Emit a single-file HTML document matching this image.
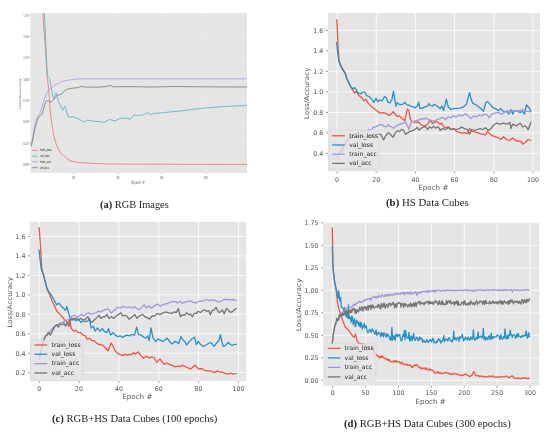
<!DOCTYPE html>
<html><head><meta charset="utf-8"><style>
html,body{margin:0;padding:0;background:#fff;width:550px;height:438px;overflow:hidden}
svg{display:block}
text{font-family:"DejaVu Sans","Liberation Sans",sans-serif}
.cap{font-family:"Liberation Serif","DejaVu Serif",serif;fill:#222}
</style></head><body>
<svg width="550" height="438" viewBox="0 0 550 438">
<defs><filter id="blurA" x="-5%" y="-5%" width="110%" height="110%"><feGaussianBlur stdDeviation="0.45"/></filter><filter id="blurB" x="-5%" y="-5%" width="110%" height="110%"><feGaussianBlur stdDeviation="0.3"/></filter></defs>
<g filter="url(#blurA)"><rect x="30.5" y="13" width="216.5" height="160" fill="#E5E5E5"/><line x1="117.7" y1="13" x2="117.7" y2="173" stroke="#fff" stroke-width="0.5" stroke-opacity="0.4"/><line x1="161.8" y1="13" x2="161.8" y2="173" stroke="#fff" stroke-width="0.5" stroke-opacity="0.4"/><line x1="205.9" y1="13" x2="205.9" y2="173" stroke="#fff" stroke-width="0.5" stroke-opacity="0.4"/><line x1="30.5" y1="164.3" x2="247" y2="164.3" stroke="#fff" stroke-width="0.5" stroke-opacity="0.4"/><line x1="30.5" y1="143" x2="247" y2="143" stroke="#fff" stroke-width="0.5" stroke-opacity="0.4"/><line x1="30.5" y1="121.6" x2="247" y2="121.6" stroke="#fff" stroke-width="0.5" stroke-opacity="0.4"/><line x1="30.5" y1="100.3" x2="247" y2="100.3" stroke="#fff" stroke-width="0.5" stroke-opacity="0.4"/><line x1="30.5" y1="79" x2="247" y2="79" stroke="#fff" stroke-width="0.5" stroke-opacity="0.4"/><line x1="30.5" y1="57.6" x2="247" y2="57.6" stroke="#fff" stroke-width="0.5" stroke-opacity="0.4"/><line x1="30.5" y1="36.3" x2="247" y2="36.3" stroke="#fff" stroke-width="0.5" stroke-opacity="0.4"/><line x1="30.5" y1="15" x2="247" y2="15" stroke="#fff" stroke-width="0.5" stroke-opacity="0.4"/><line x1="73.6" y1="173" x2="73.6" y2="174.2" stroke="#999" stroke-width="0.6"/><line x1="117.7" y1="173" x2="117.7" y2="174.2" stroke="#999" stroke-width="0.6"/><line x1="161.8" y1="173" x2="161.8" y2="174.2" stroke="#999" stroke-width="0.6"/><line x1="205.9" y1="173" x2="205.9" y2="174.2" stroke="#999" stroke-width="0.6"/><line x1="29.3" y1="164.3" x2="30.5" y2="164.3" stroke="#999" stroke-width="0.6"/><line x1="29.3" y1="143" x2="30.5" y2="143" stroke="#999" stroke-width="0.6"/><line x1="29.3" y1="121.6" x2="30.5" y2="121.6" stroke="#999" stroke-width="0.6"/><line x1="29.3" y1="100.3" x2="30.5" y2="100.3" stroke="#999" stroke-width="0.6"/><line x1="29.3" y1="79" x2="30.5" y2="79" stroke="#999" stroke-width="0.6"/><line x1="29.3" y1="57.6" x2="30.5" y2="57.6" stroke="#999" stroke-width="0.6"/><line x1="29.3" y1="36.3" x2="30.5" y2="36.3" stroke="#999" stroke-width="0.6"/><line x1="29.3" y1="15" x2="30.5" y2="15" stroke="#999" stroke-width="0.6"/><text transform="translate(73.6,178.5) scale(0.6,1)" font-size="4.2" text-anchor="middle" fill="#555">20</text><text transform="translate(117.7,178.5) scale(0.6,1)" font-size="4.2" text-anchor="middle" fill="#555">40</text><text transform="translate(161.8,178.5) scale(0.6,1)" font-size="4.2" text-anchor="middle" fill="#555">60</text><text transform="translate(205.9,178.5) scale(0.6,1)" font-size="4.2" text-anchor="middle" fill="#555">80</text><text transform="translate(28.8,165.83) scale(0.6,1)" font-size="4.2" text-anchor="end" fill="#555">0.00</text><text transform="translate(28.8,144.5) scale(0.6,1)" font-size="4.2" text-anchor="end" fill="#555">0.25</text><text transform="translate(28.8,123.17) scale(0.6,1)" font-size="4.2" text-anchor="end" fill="#555">0.50</text><text transform="translate(28.8,101.83) scale(0.6,1)" font-size="4.2" text-anchor="end" fill="#555">0.75</text><text transform="translate(28.8,80.5) scale(0.6,1)" font-size="4.2" text-anchor="end" fill="#555">1.00</text><text transform="translate(28.8,59.17) scale(0.6,1)" font-size="4.2" text-anchor="end" fill="#555">1.25</text><text transform="translate(28.8,37.84) scale(0.6,1)" font-size="4.2" text-anchor="end" fill="#555">1.50</text><text transform="translate(28.8,16.5) scale(0.6,1)" font-size="4.2" text-anchor="end" fill="#555">1.75</text><text transform="translate(138.3,183.5) scale(0.72,1)" font-size="4.4" text-anchor="middle" fill="#555">Epoch #</text><text transform="translate(21.0,93.9) scale(0.6,1) rotate(-90)" font-size="4.4" text-anchor="middle" fill="#555">Loss/Accuracy</text><clipPath id="ca"><rect x="30.5" y="13" width="216.5" height="160"/></clipPath><g clip-path="url(#ca)"><polyline points="42.4,5 42.9,13 47.3,77.3 48.7,89.6 49.3,97.4 50.3,111.1 51.6,122.1 52.5,128.5 54.8,140 56.5,145 58.2,148.7 60.4,153.1 63.6,155.7 68,159.6 72.4,161.4 78.9,162.5 89.8,163.3 107.3,164 140,164.2 247,164.4" fill="none" stroke="#EE7F6E" stroke-width="0.9" stroke-linejoin="round" stroke-linecap="round"/><polyline points="44.3,5 44.4,13 47.3,75.5 48.2,76.8 49.6,78.2 51,86.4 52.3,93.3 53.7,99.5 55.1,95.3 56.2,92.6 57.1,96.7 58.5,101.5 60.5,105.6 62.6,110.4 64.7,106.3 66,109.7 68.1,116.6 70.1,117.3 72.9,116.6 75.6,117.9 78.4,118.6 81.1,120.7 84.5,122.1 87.3,120 90.7,120.7 94.8,121.4 100,121.7 104.1,122.3 109.5,119.5 115,120.9 120.5,118.2 127.3,118.2 130,119.5 134.1,114.9 138.2,115.5 143.6,114.6 147.7,112.7 150.4,114.6 154.5,113.5 162.7,112.7 170.9,111.9 181.8,110.8 192.7,109.4 203.6,108.2 214.5,107.3 225.4,106.5 236.4,105.9 247,105.3" fill="none" stroke="#62B2D0" stroke-width="0.9" stroke-linejoin="round" stroke-linecap="round"/><polyline points="31,145.5 32.6,138 34.3,128.5 36,121.2 37.8,117 40,113.8 42.1,107 44.1,99.5 46.8,93.3 49.6,89.2 53.7,85.8 57.8,83.7 61.9,81.6 67.4,80.3 74.2,79.3 81.1,78.9 247,78.9" fill="none" stroke="#AAA2E2" stroke-width="0.9" stroke-linejoin="round" stroke-linecap="round"/><polyline points="31.4,146 33.1,138 34.8,129 36.6,122 38.3,118 40.6,115.4 42.3,114.3 43.4,109.7 44.8,104.2 46.2,100.8 48.2,100.8 51,102.2 53.7,99.5 56.4,96 59.2,94.7 61.9,94 64.7,90.5 67.4,89.2 70.1,88.5 75.6,87.8 79.7,87.1 81.1,86.2 83.8,87.1 100,87.1 106,86.5 110,85.6 114,86.8 130,86.6 150,87 175,86.5 200,86.8 247,87" fill="none" stroke="#858585" stroke-width="0.9" stroke-linejoin="round" stroke-linecap="round"/></g><line x1="32.3" y1="150.4" x2="37.7" y2="150.4" stroke="#EE7F6E" stroke-width="0.9"/><text transform="translate(40,151.48) scale(0.68,1)" font-size="3.6" fill="#222">train_loss</text><line x1="32.3" y1="156.2" x2="37.7" y2="156.2" stroke="#62B2D0" stroke-width="0.9"/><text transform="translate(40,157.23) scale(0.68,1)" font-size="3.6" fill="#222">val_loss</text><line x1="32.3" y1="161.9" x2="37.7" y2="161.9" stroke="#AAA2E2" stroke-width="0.9"/><text transform="translate(40,162.98) scale(0.68,1)" font-size="3.6" fill="#222">train_acc</text><line x1="32.3" y1="167.7" x2="37.7" y2="167.7" stroke="#858585" stroke-width="0.9"/><text transform="translate(40,168.73) scale(0.68,1)" font-size="3.6" fill="#222">val_acc</text></g>
<g filter="url(#blurB)"><rect x="328" y="13" width="212" height="158.4" fill="#E5E5E5"/><line x1="337" y1="13" x2="337" y2="171.4" stroke="#fff" stroke-width="0.8" stroke-opacity="1"/><line x1="376.2" y1="13" x2="376.2" y2="171.4" stroke="#fff" stroke-width="0.8" stroke-opacity="1"/><line x1="415.4" y1="13" x2="415.4" y2="171.4" stroke="#fff" stroke-width="0.8" stroke-opacity="1"/><line x1="454.6" y1="13" x2="454.6" y2="171.4" stroke="#fff" stroke-width="0.8" stroke-opacity="1"/><line x1="493.8" y1="13" x2="493.8" y2="171.4" stroke="#fff" stroke-width="0.8" stroke-opacity="1"/><line x1="533" y1="13" x2="533" y2="171.4" stroke="#fff" stroke-width="0.8" stroke-opacity="1"/><line x1="328" y1="153.4" x2="540" y2="153.4" stroke="#fff" stroke-width="0.8" stroke-opacity="1"/><line x1="328" y1="132.9" x2="540" y2="132.9" stroke="#fff" stroke-width="0.8" stroke-opacity="1"/><line x1="328" y1="112.4" x2="540" y2="112.4" stroke="#fff" stroke-width="0.8" stroke-opacity="1"/><line x1="328" y1="91.9" x2="540" y2="91.9" stroke="#fff" stroke-width="0.8" stroke-opacity="1"/><line x1="328" y1="71.4" x2="540" y2="71.4" stroke="#fff" stroke-width="0.8" stroke-opacity="1"/><line x1="328" y1="50.9" x2="540" y2="50.9" stroke="#fff" stroke-width="0.8" stroke-opacity="1"/><line x1="328" y1="30.4" x2="540" y2="30.4" stroke="#fff" stroke-width="0.8" stroke-opacity="1"/><line x1="337" y1="171.4" x2="337" y2="173.4" stroke="#555" stroke-width="0.6"/><line x1="376.2" y1="171.4" x2="376.2" y2="173.4" stroke="#555" stroke-width="0.6"/><line x1="415.4" y1="171.4" x2="415.4" y2="173.4" stroke="#555" stroke-width="0.6"/><line x1="454.6" y1="171.4" x2="454.6" y2="173.4" stroke="#555" stroke-width="0.6"/><line x1="493.8" y1="171.4" x2="493.8" y2="173.4" stroke="#555" stroke-width="0.6"/><line x1="533" y1="171.4" x2="533" y2="173.4" stroke="#555" stroke-width="0.6"/><line x1="326" y1="153.4" x2="328" y2="153.4" stroke="#555" stroke-width="0.6"/><line x1="326" y1="132.9" x2="328" y2="132.9" stroke="#555" stroke-width="0.6"/><line x1="326" y1="112.4" x2="328" y2="112.4" stroke="#555" stroke-width="0.6"/><line x1="326" y1="91.9" x2="328" y2="91.9" stroke="#555" stroke-width="0.6"/><line x1="326" y1="71.4" x2="328" y2="71.4" stroke="#555" stroke-width="0.6"/><line x1="326" y1="50.9" x2="328" y2="50.9" stroke="#555" stroke-width="0.6"/><line x1="326" y1="30.4" x2="328" y2="30.4" stroke="#555" stroke-width="0.6"/><text transform="translate(337,181.6) scale(0.97,1)" font-size="6.5" text-anchor="middle" fill="#555">0</text><text transform="translate(376.2,181.6) scale(0.97,1)" font-size="6.5" text-anchor="middle" fill="#555">20</text><text transform="translate(415.4,181.6) scale(0.97,1)" font-size="6.5" text-anchor="middle" fill="#555">40</text><text transform="translate(454.6,181.6) scale(0.97,1)" font-size="6.5" text-anchor="middle" fill="#555">60</text><text transform="translate(493.8,181.6) scale(0.97,1)" font-size="6.5" text-anchor="middle" fill="#555">80</text><text transform="translate(533,181.6) scale(0.97,1)" font-size="6.5" text-anchor="middle" fill="#555">100</text><text transform="translate(323.3,155.77) scale(0.97,1)" font-size="6.5" text-anchor="end" fill="#555">0.4</text><text transform="translate(323.3,135.27) scale(0.97,1)" font-size="6.5" text-anchor="end" fill="#555">0.6</text><text transform="translate(323.3,114.77) scale(0.97,1)" font-size="6.5" text-anchor="end" fill="#555">0.8</text><text transform="translate(323.3,94.27) scale(0.97,1)" font-size="6.5" text-anchor="end" fill="#555">1.0</text><text transform="translate(323.3,73.77) scale(0.97,1)" font-size="6.5" text-anchor="end" fill="#555">1.2</text><text transform="translate(323.3,53.27) scale(0.97,1)" font-size="6.5" text-anchor="end" fill="#555">1.4</text><text transform="translate(323.3,32.77) scale(0.97,1)" font-size="6.5" text-anchor="end" fill="#555">1.6</text><text transform="translate(433.3,189.5)" font-size="7.2" text-anchor="middle" fill="#555">Epoch #</text><text transform="translate(309.4,93.3) scale(0.9,1) rotate(-90)" font-size="7.3" text-anchor="middle" fill="#555">Loss/Accuracy</text><clipPath id="cb"><rect x="328" y="13" width="212" height="158.4"/></clipPath><g clip-path="url(#cb)"><polyline points="336.8,19.6 337.8,40 338.3,50.3 339.1,60.5 340.9,65.7 343.4,70 345.1,72.5 346.9,79.4 349.4,84.5 352,88.8 354.6,93.1 356.3,91.4 358.9,95.7 361.4,97.4 364,100.8 365.7,99.1 368.3,103.4 370.9,105.9 374.3,108.8 376.5,110.5 378.7,112.1 380.9,113.2 383.1,112.6 385.3,113.2 387.4,114.3 389.6,115.4 391.8,113.2 393.2,111.7 395.3,114.5 397.3,116.5 398.7,115.8 400.8,117.2 402.8,119.2 404.9,120.6 406.6,111.7 407.6,109 409,111 410.3,119.2 411.7,121.3 413.8,122 415.8,122.7 417.9,122 419.9,123.4 422,125.4 424,126.1 426.1,125.4 428.2,123.4 430.2,119.9 432.3,123.4 434.3,122.7 436.4,121.3 438.4,122.7 440,124.1 441.8,123.2 443.6,126.8 446.4,127.7 448.2,126.8 450.9,129.5 453.6,128.6 456.4,131.4 459.1,132.3 461.8,133.2 464.5,132.6 467.3,133.7 469.6,128.6 471.8,131.4 474.5,131.9 477.3,132.6 480,133.7 482.7,134.1 485.5,135 487.6,131.4 490,134.1 492.7,135.9 495.5,136.8 498.2,137.7 500.9,139.5 503.6,136.8 506.4,139.5 509.1,140.5 512.7,138.1 515.5,140.5 518.2,141 520.9,141.4 522.7,144.1 525.5,142.3 528.2,139.5 530.9,140.5" fill="none" stroke="#EC5640" stroke-width="1.3" stroke-linejoin="round" stroke-linecap="round"/><polyline points="336.6,42.6 337.8,53.7 338.8,61.4 340.9,66.5 343.4,70.8 345.1,73.4 346.9,78.5 349.4,83.7 351.1,87.1 352.9,88.8 354.6,87.6 356.3,89.7 358,93.1 360.6,93.9 363.1,92.2 364.9,92.2 366.6,95.7 369.1,96.5 371.7,99.1 373.8,102.5 376,98.2 377.7,101.6 379.4,99.9 382,100.8 384.6,96.5 386.4,98 387.7,102.1 389.8,102.8 391.8,100.1 393.5,91.2 394.6,98.7 396,106.2 397.3,102.8 400.1,104.9 402.8,104.2 404.9,102.5 406.9,104.9 409.7,105.5 412.4,106.9 415.1,107.6 417.2,106.2 418.6,102.1 419.9,108.3 422,108.3 424.7,106.9 427.5,106.2 428.8,103.5 430.2,105.5 432.3,106.2 434.3,104.2 436.4,105.5 438.4,106.9 440,108.6 441.8,105.9 443.6,110.5 446.4,99.2 448.2,106.8 450.9,109.5 453.6,108.6 456.4,108.3 460,108.1 463.6,106.8 466.4,104.1 468.2,97.7 469.6,92.6 470.9,98.6 472.7,103.2 476.4,105 480,107.7 483.6,111.4 485.5,103.2 487.3,101.4 490,104.1 492.7,107.7 495.5,108.6 498.2,110.5 500.9,108.6 503.6,111.9 506.4,111.4 509.1,114.1 510.9,109.5 512.7,114.1 514.5,110.5 517.3,111.4 520,112.3 522.7,111.4 524.5,114.1 526.4,105 529.1,107.7 530.9,111.4" fill="none" stroke="#2690C8" stroke-width="1.3" stroke-linejoin="round" stroke-linecap="round"/><polyline points="337,158 342,148 348,138.5 354,134 361.3,131.7 364,131.7 366.7,130.6 368.9,129.5 371.1,130.1 373.3,127.4 375.4,126.8 377.6,125.7 379.8,125.2 382,124.4 384.2,126.3 386.3,126.8 388,124.6 389.6,126.3 391.8,126.8 393.2,128.2 395.3,126.8 397.3,125.4 400.1,124 402.8,123.4 405.5,122 407.6,126.1 409,129.5 410.3,124.7 411.7,121.3 413.8,121.3 416.5,120.6 419.2,119.9 422,118.6 424,119.2 426.1,117.9 428.2,119.9 430.2,120.6 432.3,120.6 434.3,121.3 436.4,119.9 438.4,119.2 440,118.6 442.7,117.4 445.5,119.5 448.2,116.8 450.9,117.7 453.6,115.9 456.4,116.8 459.1,115 461.8,115.9 465.5,113.7 468.2,115.9 470.9,118.6 473.6,115.9 476.4,116.8 479.1,115 481.8,115.9 484.5,114.1 487.3,115 489.1,117.7 491.8,114.1 494.5,113.2 498.2,112.3 501.8,114.1 504.5,112.3 507.3,110.5 510,112.3 512.7,110.5 516.4,111.4 520,110.5 522.7,109.5 525.5,111.4 528.2,111.4 530.9,111.9" fill="none" stroke="#A096DC" stroke-width="1.3" stroke-linejoin="round" stroke-linecap="round"/><polyline points="337,158 342,150 348,140 354,137 360,136 366,137 372,135 377,134 380.9,134.4 382.5,137.7 383.6,139.9 385.3,136.6 386.9,133.9 388.5,132.8 390.2,133.9 391.8,136.1 393.2,137.1 395.3,132.9 397.3,130.9 399.4,131.6 401.4,129.5 403.5,130.2 405.5,134.3 407.6,132.9 409.7,131.6 411.7,130.9 413.8,130.2 415.8,128.8 417.2,127.5 419.2,130.2 421.3,128.2 423.4,127.5 425.4,126.1 427.5,129.5 429.5,126.8 431.6,128.2 433.6,126.1 435.7,128.2 437.7,126.8 439.8,128.8 440,130.5 442.7,128.6 445.5,129.5 448.2,127.7 450.9,129.5 453.6,128.6 456.4,129.5 459.1,128.6 461.8,127.2 464.5,128.6 467.3,129.5 469.6,134.1 471.8,129.5 474.5,130.5 477.3,129.5 480,128.6 482.7,129.5 485.5,127.7 488.2,130.5 490.9,128.6 493.6,125 496.4,123.2 500,124.1 503.6,123.2 507.3,124.1 510,122.3 510.9,128.6 512.7,124.1 516.4,125.9 520,123.2 522.7,126.8 525.5,125.9 528.2,129.5 530.9,122.3" fill="none" stroke="#747474" stroke-width="1.3" stroke-linejoin="round" stroke-linecap="round"/></g><rect x="329.4" y="129.8" width="49.6" height="39.6" rx="1" fill="#E5E5E5" fill-opacity="0.8" stroke="#CCC" stroke-opacity="0.8" stroke-width="0.5"/><line x1="332.2" y1="135.8" x2="344.7" y2="135.8" stroke="#EC5640" stroke-width="1.3"/><text transform="translate(349.2,137.63)" font-size="6.1" fill="#222">train_loss</text><line x1="332.2" y1="145" x2="344.7" y2="145" stroke="#2690C8" stroke-width="1.3"/><text transform="translate(349.2,146.83)" font-size="6.1" fill="#222">val_loss</text><line x1="332.2" y1="154.2" x2="344.7" y2="154.2" stroke="#A096DC" stroke-width="1.3"/><text transform="translate(349.2,156.03)" font-size="6.1" fill="#222">train_acc</text><line x1="332.2" y1="163.4" x2="344.7" y2="163.4" stroke="#747474" stroke-width="1.3"/><text transform="translate(349.2,165.23)" font-size="6.1" fill="#222">val_acc</text></g>
<g filter="url(#blurB)"><rect x="30" y="221.8" width="216.3" height="159.3" fill="#E5E5E5"/><line x1="39.3" y1="221.8" x2="39.3" y2="381.1" stroke="#fff" stroke-width="0.8" stroke-opacity="1"/><line x1="79.1" y1="221.8" x2="79.1" y2="381.1" stroke="#fff" stroke-width="0.8" stroke-opacity="1"/><line x1="118.9" y1="221.8" x2="118.9" y2="381.1" stroke="#fff" stroke-width="0.8" stroke-opacity="1"/><line x1="158.8" y1="221.8" x2="158.8" y2="381.1" stroke="#fff" stroke-width="0.8" stroke-opacity="1"/><line x1="198.6" y1="221.8" x2="198.6" y2="381.1" stroke="#fff" stroke-width="0.8" stroke-opacity="1"/><line x1="238.4" y1="221.8" x2="238.4" y2="381.1" stroke="#fff" stroke-width="0.8" stroke-opacity="1"/><line x1="30" y1="372.6" x2="246.3" y2="372.6" stroke="#fff" stroke-width="0.8" stroke-opacity="1"/><line x1="30" y1="353.2" x2="246.3" y2="353.2" stroke="#fff" stroke-width="0.8" stroke-opacity="1"/><line x1="30" y1="333.7" x2="246.3" y2="333.7" stroke="#fff" stroke-width="0.8" stroke-opacity="1"/><line x1="30" y1="314.2" x2="246.3" y2="314.2" stroke="#fff" stroke-width="0.8" stroke-opacity="1"/><line x1="30" y1="294.8" x2="246.3" y2="294.8" stroke="#fff" stroke-width="0.8" stroke-opacity="1"/><line x1="30" y1="275.3" x2="246.3" y2="275.3" stroke="#fff" stroke-width="0.8" stroke-opacity="1"/><line x1="30" y1="255.9" x2="246.3" y2="255.9" stroke="#fff" stroke-width="0.8" stroke-opacity="1"/><line x1="30" y1="236.4" x2="246.3" y2="236.4" stroke="#fff" stroke-width="0.8" stroke-opacity="1"/><line x1="39.3" y1="381.1" x2="39.3" y2="383.1" stroke="#555" stroke-width="0.6"/><line x1="79.1" y1="381.1" x2="79.1" y2="383.1" stroke="#555" stroke-width="0.6"/><line x1="118.9" y1="381.1" x2="118.9" y2="383.1" stroke="#555" stroke-width="0.6"/><line x1="158.8" y1="381.1" x2="158.8" y2="383.1" stroke="#555" stroke-width="0.6"/><line x1="198.6" y1="381.1" x2="198.6" y2="383.1" stroke="#555" stroke-width="0.6"/><line x1="238.4" y1="381.1" x2="238.4" y2="383.1" stroke="#555" stroke-width="0.6"/><line x1="28" y1="372.6" x2="30" y2="372.6" stroke="#555" stroke-width="0.6"/><line x1="28" y1="353.2" x2="30" y2="353.2" stroke="#555" stroke-width="0.6"/><line x1="28" y1="333.7" x2="30" y2="333.7" stroke="#555" stroke-width="0.6"/><line x1="28" y1="314.2" x2="30" y2="314.2" stroke="#555" stroke-width="0.6"/><line x1="28" y1="294.8" x2="30" y2="294.8" stroke="#555" stroke-width="0.6"/><line x1="28" y1="275.3" x2="30" y2="275.3" stroke="#555" stroke-width="0.6"/><line x1="28" y1="255.9" x2="30" y2="255.9" stroke="#555" stroke-width="0.6"/><line x1="28" y1="236.4" x2="30" y2="236.4" stroke="#555" stroke-width="0.6"/><text transform="translate(39.3,390.6) scale(0.97,1)" font-size="6.5" text-anchor="middle" fill="#555">0</text><text transform="translate(79.12,390.6) scale(0.97,1)" font-size="6.5" text-anchor="middle" fill="#555">20</text><text transform="translate(118.94,390.6) scale(0.97,1)" font-size="6.5" text-anchor="middle" fill="#555">40</text><text transform="translate(158.76,390.6) scale(0.97,1)" font-size="6.5" text-anchor="middle" fill="#555">60</text><text transform="translate(198.58,390.6) scale(0.97,1)" font-size="6.5" text-anchor="middle" fill="#555">80</text><text transform="translate(238.4,390.6) scale(0.97,1)" font-size="6.5" text-anchor="middle" fill="#555">100</text><text transform="translate(25.5,374.99) scale(0.97,1)" font-size="6.5" text-anchor="end" fill="#555">0.2</text><text transform="translate(25.5,355.53) scale(0.97,1)" font-size="6.5" text-anchor="end" fill="#555">0.4</text><text transform="translate(25.5,336.07) scale(0.97,1)" font-size="6.5" text-anchor="end" fill="#555">0.6</text><text transform="translate(25.5,316.61) scale(0.97,1)" font-size="6.5" text-anchor="end" fill="#555">0.8</text><text transform="translate(25.5,297.15) scale(0.97,1)" font-size="6.5" text-anchor="end" fill="#555">1.0</text><text transform="translate(25.5,277.69) scale(0.97,1)" font-size="6.5" text-anchor="end" fill="#555">1.2</text><text transform="translate(25.5,258.23) scale(0.97,1)" font-size="6.5" text-anchor="end" fill="#555">1.4</text><text transform="translate(25.5,238.77) scale(0.97,1)" font-size="6.5" text-anchor="end" fill="#555">1.6</text><text transform="translate(137.3,399)" font-size="7.2" text-anchor="middle" fill="#555">Epoch #</text><text transform="translate(11.6,302.2) scale(0.9,1) rotate(-90)" font-size="7.2" text-anchor="middle" fill="#555">Loss/Accuracy</text><clipPath id="cc"><rect x="30" y="221.8" width="216.3" height="159.3"/></clipPath><g clip-path="url(#cc)"><polyline points="39.1,227.6 40,238.7 40.9,252.4 41.7,267.8 43.4,274.7 44.8,280 47.2,289.6 49.6,294.4 52,300.8 54.4,305.6 56.8,311.2 59.2,313.6 61.6,316 64,319.2 66.4,321.6 68,323.2 69.6,320 71.2,328 73.6,331.1 76,330.3 78.4,332.7 80.8,332.7 83.2,335.1 85.5,335.9 87.1,339.1 89.5,338.3 91.9,340.7 94.3,340.7 96.7,343.1 99.1,344.7 100,344.5 102.7,345.2 105.5,348 108.2,350.7 110.9,343.2 113,345.9 115,350.7 117.7,353.4 120.5,354.8 123.2,355.5 125.2,354.1 127.3,355.5 129.3,354.1 131.4,354.8 133.4,352.7 135.5,354.1 138.2,352 140.9,355.5 143.6,358.2 146.4,356.1 149.1,358.2 151.8,356.8 153.9,357.5 156.6,362.3 160,358.9 162,361.6 164.1,364.3 166.8,363 169.5,364.3 172.3,365.7 175.5,366.9 178.3,366.2 180.4,366.7 182.4,365.1 185.2,366.5 188,367.8 190.7,368.9 192.8,367.1 194.9,365.3 196.9,367.1 199,369.2 201.8,368.5 204.5,370.3 207.3,370.9 210.1,370.9 212.8,372 215.6,372.3 217.7,370.9 219.7,372 222.5,372.3 225.3,373.4 228,374.2 230.8,373.1 232.9,374.1 234.9,373.6 236.3,373.6" fill="none" stroke="#EC5640" stroke-width="1.3" stroke-linejoin="round" stroke-linecap="round"/><polyline points="39.1,249.8 40,259.2 41.2,268.7 43.4,274.7 44.8,280 47.2,288.8 49.6,292.8 52,296 54.4,300.8 56.8,304.8 58.9,303.2 60.8,305.6 63.2,308 65.6,310.4 66.8,306.4 68.8,313.6 70.4,319.2 72,320 73.6,318.4 76,320.8 78.4,319.2 80.8,322.4 83.2,320.8 85.5,321.6 87.9,320.8 89.5,318.4 91.1,328 93.5,326.3 95.1,331.1 97.5,327.9 99.9,331.1 102.3,328.7 104.7,331.9 106.6,332.7 108.5,328.7 110.6,335.1 113,332.7 115.4,335.1 117.8,336.7 120.2,335.9 122.6,337.5 125,335.9 127.4,335.1 129.8,335.9 132.2,334.3 134.6,335.1 136.6,327.1 138.6,334.3 141,335.1 143.4,336.7 145.8,338.3 147.8,335.9 149.1,340.7 151,328 152.9,337.5 155.3,341.5 157.7,339.1 160.1,339.9 162.5,341.5 164.9,339.9 167.3,338.3 169.7,341.5 172.1,344.1 174.8,341.3 176.9,342.3 178.6,343.7 180.8,336.7 183.1,340.2 184.5,341.3 186.6,345 189.3,341.6 192.1,338.8 194.6,337.2 196.3,344.3 198.3,341.3 200.4,344.3 203.2,346.4 205.9,345 210.8,342.3 214.2,346.4 217,342.3 219.1,340.2 220.4,334.7 221.8,341.6 223.2,346.4 225.3,345.7 228,342.3 230.1,344.3 232.2,345.5 234.3,344.3 236.3,344.3" fill="none" stroke="#2690C8" stroke-width="1.3" stroke-linejoin="round" stroke-linecap="round"/><polyline points="39.5,359 42,348 44,339.9 45.6,335.9 48,332.7 50.4,331.1 52.8,327.9 55.2,325.5 57.6,324.7 60,323.2 62.4,322.4 64.8,321.2 67.2,320 69.6,319.2 72,316 74.4,315.2 76.8,317.6 79.2,316 81.6,314.4 84,316 86.3,313.6 88.7,312.8 91.1,314.4 93.5,313.6 95.9,312.8 98.3,311.2 100.7,312 103.1,310.4 105.5,309.6 107.4,308.8 109,309.6 111.1,313.2 113,311.2 115.4,309.6 117.8,307.2 120.2,308 122.6,306.4 125,307.2 127.4,307.5 129.8,306.8 132.2,308 134.6,306.8 137,308.8 139.4,309.6 141.8,307.2 144.2,304.8 146.6,308 149,305.6 151.3,308 153.7,306.4 156.1,304.8 157.7,304 160.1,306.4 162.5,304.8 164.9,304 167.3,303.7 169.7,302.4 172.1,301.6 175.5,301.6 177.6,303 180.4,301.3 182.4,303.2 184.5,302.3 187.3,301.6 190,300.9 193.5,302.3 196.3,303 199,301.3 203.2,300.9 206.6,299.5 209.4,300.5 212.8,299.9 215.6,300.5 218.4,301.9 221.1,301.3 223.9,299.5 226.7,299.5 229.4,299.9 232.2,299.5 234.3,299.9 236.3,300.5" fill="none" stroke="#A096DC" stroke-width="1.3" stroke-linejoin="round" stroke-linecap="round"/><polyline points="39.5,359 42,345 44,339.1 45.6,335.9 47.2,335.1 48.8,332.7 50.4,335.1 52,331.9 54.4,327.1 56.8,324.7 58.4,327.1 60,324 62.4,324.7 64,323.2 65.6,326.3 67.2,322.4 68.8,326.3 70.4,320 72,318.4 73.6,320 76,318.4 78.4,320 80.8,318.4 83.2,320 85.5,319.2 87.9,316.8 89.5,320 91.9,322.4 94.3,320 96.7,317.6 99.1,315.2 100.7,318.4 103.1,316.8 105,316.8 106.9,314.4 109,318.4 111.4,316.8 113.8,318.4 116.2,316 118.6,314.4 121,312.8 122.6,316 125,315.2 127.4,316.8 129,319.2 131.4,317.6 134.6,314.4 137,318.4 139.4,316 142.6,314.4 145,316.8 147.4,317.6 149.7,319.2 152.1,316 154.5,316 156.9,313.6 160.1,314.4 163.3,312.8 165.7,312 168.9,312.8 172.1,313.3 174.1,311.9 176.2,312.6 178.3,308.5 180.4,316.8 182.4,314.7 184.5,315.4 186.6,312.6 188.7,314.7 190.7,314 192.4,316.8 194.2,313.3 196.3,313.3 198.3,311.3 200.4,312.6 202.5,310.6 204.5,309.9 206.6,311.3 208.7,310.6 210.3,314.7 212.1,310.6 214.2,309.9 216,307.4 217.7,310.6 219.1,312.6 221.1,311.3 222.5,309.9 224.2,313.7 226.4,308.5 228,309.9 230.8,312.4 232.9,311.3 234.9,309.2 236.3,308.8" fill="none" stroke="#747474" stroke-width="1.3" stroke-linejoin="round" stroke-linecap="round"/></g><rect x="30.5" y="340.2" width="52.5" height="40" rx="1" fill="#E5E5E5" fill-opacity="0.8" stroke="#CCC" stroke-opacity="0.8" stroke-width="0.5"/><line x1="34.4" y1="345" x2="47.3" y2="345" stroke="#EC5640" stroke-width="1.3"/><text transform="translate(51.6,346.83)" font-size="6.1" fill="#222">train_loss</text><line x1="34.4" y1="354.3" x2="47.3" y2="354.3" stroke="#2690C8" stroke-width="1.3"/><text transform="translate(51.6,356.16)" font-size="6.1" fill="#222">val_loss</text><line x1="34.4" y1="363.7" x2="47.3" y2="363.7" stroke="#A096DC" stroke-width="1.3"/><text transform="translate(51.6,365.49)" font-size="6.1" fill="#222">train_acc</text><line x1="34.4" y1="373" x2="47.3" y2="373" stroke="#747474" stroke-width="1.3"/><text transform="translate(51.6,374.82)" font-size="6.1" fill="#222">val_acc</text></g>
<g filter="url(#blurB)"><rect x="323.2" y="222.4" width="216" height="163.2" fill="#E5E5E5"/><line x1="332.7" y1="222.4" x2="332.7" y2="385.6" stroke="#fff" stroke-width="0.8" stroke-opacity="1"/><line x1="365.6" y1="222.4" x2="365.6" y2="385.6" stroke="#fff" stroke-width="0.8" stroke-opacity="1"/><line x1="398.5" y1="222.4" x2="398.5" y2="385.6" stroke="#fff" stroke-width="0.8" stroke-opacity="1"/><line x1="431.4" y1="222.4" x2="431.4" y2="385.6" stroke="#fff" stroke-width="0.8" stroke-opacity="1"/><line x1="464.2" y1="222.4" x2="464.2" y2="385.6" stroke="#fff" stroke-width="0.8" stroke-opacity="1"/><line x1="497.1" y1="222.4" x2="497.1" y2="385.6" stroke="#fff" stroke-width="0.8" stroke-opacity="1"/><line x1="530" y1="222.4" x2="530" y2="385.6" stroke="#fff" stroke-width="0.8" stroke-opacity="1"/><line x1="323.2" y1="380.3" x2="539.2" y2="380.3" stroke="#fff" stroke-width="0.8" stroke-opacity="1"/><line x1="323.2" y1="357.8" x2="539.2" y2="357.8" stroke="#fff" stroke-width="0.8" stroke-opacity="1"/><line x1="323.2" y1="335.3" x2="539.2" y2="335.3" stroke="#fff" stroke-width="0.8" stroke-opacity="1"/><line x1="323.2" y1="312.8" x2="539.2" y2="312.8" stroke="#fff" stroke-width="0.8" stroke-opacity="1"/><line x1="323.2" y1="290.3" x2="539.2" y2="290.3" stroke="#fff" stroke-width="0.8" stroke-opacity="1"/><line x1="323.2" y1="267.8" x2="539.2" y2="267.8" stroke="#fff" stroke-width="0.8" stroke-opacity="1"/><line x1="323.2" y1="245.3" x2="539.2" y2="245.3" stroke="#fff" stroke-width="0.8" stroke-opacity="1"/><line x1="323.2" y1="222.8" x2="539.2" y2="222.8" stroke="#fff" stroke-width="0.8" stroke-opacity="1"/><line x1="332.7" y1="385.6" x2="332.7" y2="387.6" stroke="#555" stroke-width="0.6"/><line x1="365.6" y1="385.6" x2="365.6" y2="387.6" stroke="#555" stroke-width="0.6"/><line x1="398.5" y1="385.6" x2="398.5" y2="387.6" stroke="#555" stroke-width="0.6"/><line x1="431.4" y1="385.6" x2="431.4" y2="387.6" stroke="#555" stroke-width="0.6"/><line x1="464.2" y1="385.6" x2="464.2" y2="387.6" stroke="#555" stroke-width="0.6"/><line x1="497.1" y1="385.6" x2="497.1" y2="387.6" stroke="#555" stroke-width="0.6"/><line x1="530" y1="385.6" x2="530" y2="387.6" stroke="#555" stroke-width="0.6"/><line x1="321.2" y1="380.3" x2="323.2" y2="380.3" stroke="#555" stroke-width="0.6"/><line x1="321.2" y1="357.8" x2="323.2" y2="357.8" stroke="#555" stroke-width="0.6"/><line x1="321.2" y1="335.3" x2="323.2" y2="335.3" stroke="#555" stroke-width="0.6"/><line x1="321.2" y1="312.8" x2="323.2" y2="312.8" stroke="#555" stroke-width="0.6"/><line x1="321.2" y1="290.3" x2="323.2" y2="290.3" stroke="#555" stroke-width="0.6"/><line x1="321.2" y1="267.8" x2="323.2" y2="267.8" stroke="#555" stroke-width="0.6"/><line x1="321.2" y1="245.3" x2="323.2" y2="245.3" stroke="#555" stroke-width="0.6"/><line x1="321.2" y1="222.8" x2="323.2" y2="222.8" stroke="#555" stroke-width="0.6"/><text transform="translate(332.7,395.3) scale(0.97,1)" font-size="6.5" text-anchor="middle" fill="#555">0</text><text transform="translate(365.58,395.3) scale(0.97,1)" font-size="6.5" text-anchor="middle" fill="#555">50</text><text transform="translate(398.47,395.3) scale(0.97,1)" font-size="6.5" text-anchor="middle" fill="#555">100</text><text transform="translate(431.35,395.3) scale(0.97,1)" font-size="6.5" text-anchor="middle" fill="#555">150</text><text transform="translate(464.24,395.3) scale(0.97,1)" font-size="6.5" text-anchor="middle" fill="#555">200</text><text transform="translate(497.12,395.3) scale(0.97,1)" font-size="6.5" text-anchor="middle" fill="#555">250</text><text transform="translate(530.01,395.3) scale(0.97,1)" font-size="6.5" text-anchor="middle" fill="#555">300</text><text transform="translate(318.4,382.67) scale(0.97,1)" font-size="6.5" text-anchor="end" fill="#555">0.00</text><text transform="translate(318.4,360.17) scale(0.97,1)" font-size="6.5" text-anchor="end" fill="#555">0.25</text><text transform="translate(318.4,337.67) scale(0.97,1)" font-size="6.5" text-anchor="end" fill="#555">0.50</text><text transform="translate(318.4,315.17) scale(0.97,1)" font-size="6.5" text-anchor="end" fill="#555">0.75</text><text transform="translate(318.4,292.67) scale(0.97,1)" font-size="6.5" text-anchor="end" fill="#555">1.00</text><text transform="translate(318.4,270.17) scale(0.97,1)" font-size="6.5" text-anchor="end" fill="#555">1.25</text><text transform="translate(318.4,247.67) scale(0.97,1)" font-size="6.5" text-anchor="end" fill="#555">1.50</text><text transform="translate(318.4,225.17) scale(0.97,1)" font-size="6.5" text-anchor="end" fill="#555">1.75</text><text transform="translate(430.7,403.8)" font-size="7.2" text-anchor="middle" fill="#555">Epoch #</text><text transform="translate(301,304.8) scale(0.9,1) rotate(-90)" font-size="7.45" text-anchor="middle" fill="#555">Loss/Accuracy</text><clipPath id="cd"><rect x="323.2" y="222.4" width="216" height="163.2"/></clipPath><g clip-path="url(#cd)"><polyline points="332.3,227.6 332.6,242.1 332.8,262.7 333.5,272.9 334.8,283.2 336.2,290.1 337.7,303.8 339.1,309.7 340.6,314.2 342.1,318.6 343.6,323.1 345.1,326.8 347.3,329 349.5,331.2 351.8,335 354,337.2 355.5,334.2 357,340.9 359.1,343.6 362.3,343.7 363,344.9 363.6,344.9 364.3,344.8 364.9,344.4 365.6,346 366.2,346.4 366.9,346.2 367.6,346.6 368.2,346.5 368.9,346.4 369.5,347.6 370.2,348.4 370.8,347.8 371.5,349.7 372.2,348.9 372.8,349.4 373.5,349.9 374.1,352.8 374.8,353.4 375.5,354.7 376.1,355.3 376.8,354.8 377.4,355.8 378.1,356.6 378.7,356.3 379.4,358.1 380.1,356.8 380.7,356.2 381.4,357.4 382,355.8 382.7,357.3 383.3,356.9 384,357.8 384.7,358 385.3,358.9 386,358.6 386.6,358.5 387.3,360.3 387.9,359.2 388.6,360.4 389.3,359.5 389.9,361.3 390.6,361.5 391.2,361.6 391.9,361.9 392.6,361.9 393.2,362.1 393.9,360.8 394.5,361.3 395.2,361.9 395.8,360.4 396.5,361.8 397.2,362.1 397.8,361.4 398.5,361.7 399.1,362.2 399.8,362.4 400.4,363.8 401.1,362.8 401.8,362.3 402.4,362.7 403.1,364.1 403.7,364.8 404.4,364 405,364.2 405.7,364.4 406.4,365 407,364.1 407.7,365.1 408.3,365.2 409,365.5 409.7,364.8 410.3,365 411,365.8 411.6,367.4 412.3,366.7 412.9,367.3 413.6,366.2 414.3,365.3 414.9,364.8 415.6,365.8 416.2,365.2 416.9,364.6 417.5,365.8 418.2,366.3 418.9,367.2 419.5,367.8 420.2,367.2 420.8,368.5 421.5,368.6 422.1,368 422.8,368.8 423.5,368.1 424.1,368.1 424.8,368 425.4,369.4 426.1,368.1 426.8,368.1 427.4,369.7 428.1,369.8 428.7,369.4 429.4,370.3 430,368.9 430.7,369.5 431.4,369.9 432,370.6 432.7,370.5 433.3,370.8 434,371.6 434.6,372.9 435.3,373.3 436,373 436.6,372.5 437.3,371.5 437.9,372.5 438.6,372.3 439.2,373.4 439.9,372.4 440.6,373 441.2,373.6 441.9,373.5 442.5,373.5 443.2,373.1 443.9,372.9 444.5,372.9 445.2,373 445.8,372.3 446.5,372.5 447.1,372.6 447.8,373.3 448.5,372.9 449.1,373.8 449.8,374.3 450.4,373.5 451.1,374.2 451.7,374.4 452.4,374.5 453.1,374.1 453.7,373.5 454.4,373.5 455,373.9 455.7,374.2 456.3,373.8 457,374.1 457.7,374.5 458.3,374.5 459,375 459.6,374.8 460.3,375.7 461,375.5 461.6,375.1 462.3,375.6 462.9,375.2 463.6,375.2 464.2,374.7 464.9,374.4 465.6,374.2 466.2,374.2 466.9,375 467.5,375.3 468.2,375.2 468.8,376.3 469.5,376.5 470.2,376.2 470.8,376.1 471.5,375.2 472.1,375.1 472.8,373.2 473.4,372.5 474.1,371.8 474.8,373.8 475.4,374.8 476.1,375.8 476.7,375.5 477.4,375.4 478.1,375.8 478.7,375.8 479.4,376.5 480,375.9 480.7,376.2 481.3,376.3 482,376.8 482.7,376 483.3,376.6 484,376.6 484.6,376.9 485.3,377.2 485.9,376.6 486.6,376.9 487.3,376.7 487.9,376.6 488.6,376 489.2,376.7 489.9,376.8 490.5,376.1 491.2,376.1 491.9,376.9 492.5,376.1 493.2,376.2 493.8,376.4 494.5,377.2 495.2,377.3 495.8,377 496.5,377.2 497.1,376.6 497.8,377.2 498.4,377 499.1,377.1 499.8,377 500.4,377 501.1,376.8 501.7,376.5 502.4,376.8 503,376.5 503.7,376.8 504.4,376.8 505,376.6 505.7,376.2 506.3,376.1 507,376.5 507.6,376.8 508.3,377.2 509,377.7 509.6,377.1 510.3,377 510.9,376.4 511.6,376.1 512.3,375.8 512.9,376.5 513.6,377.2 514.2,378.1 514.9,378.3 515.5,378.5 516.2,378.4 516.9,378.4 517.5,378 518.2,378.6 518.8,378.1 519.5,378.4 520.1,378.6 520.8,378.7 521.5,378.7 522.1,377.7 522.8,378 523.4,378 524.1,378.1 524.7,377.8 525.4,378.2 526.1,377.7 526.7,378 527.4,378.7 528,378.6 528.7,378.4 529.4,378.1" fill="none" stroke="#EC5640" stroke-width="1.3" stroke-linejoin="round" stroke-linecap="round"/><polyline points="332.3,246.4 332.8,262.7 333.5,272.9 334.8,283.2 336.2,289 336.6,291 337.3,295.6 338,298.3 338.6,290.7 339.3,296.3 339.9,300.8 340.6,297.4 341.3,307 341.9,307.3 342.6,307.9 343.2,308.8 343.9,310.8 344.5,307.7 345.2,311.2 345.9,310.1 346.5,317 347.2,311.1 347.8,318.1 348.5,305 349.1,318.8 349.8,316.9 350.5,318.1 351.1,322.1 351.8,316.1 352.4,316.9 353.1,324.3 353.7,321.6 354.4,318.8 355.1,326.4 355.7,326.5 356.4,320.2 357,323.1 357.7,321.2 358.4,323 359,325.9 359.7,322.6 360.3,327.2 361,322.4 361.6,323.7 362.3,329.2 363,326.2 363.6,326.7 364.3,323.4 364.9,327.8 365.6,327.4 366.2,325.6 366.9,330.4 367.6,332.3 368.2,332.7 368.9,331 369.5,329.3 370.2,329.7 370.8,332.1 371.5,332.2 372.2,328.9 372.8,329.9 373.5,331 374.1,332.2 374.8,334.4 375.5,332.7 376.1,329.9 376.8,335.3 377.4,333 378.1,333.9 378.7,332.2 379.4,333.8 380.1,333.8 380.7,336.5 381.4,332.4 382,335.4 382.7,333.2 383.3,336.8 384,332.7 384.7,334.5 385.3,335.1 386,337.2 386.6,333.6 387.3,336.3 387.9,334.9 388.6,335.4 389.3,336.8 389.9,340 390.6,337.1 391.2,340.2 391.9,327.3 392.6,340.2 393.2,336.7 393.9,335.6 394.5,339.2 395.2,340.2 395.8,334.4 396.5,336.1 397.2,334.3 397.8,336.6 398.5,335.9 399.1,334.5 399.8,334.7 400.4,338.4 401.1,340.7 401.8,340.8 402.4,337.7 403.1,334.6 403.7,336.5 404.4,330.5 405,339.8 405.7,330.6 406.4,336 407,337.9 407.7,337.6 408.3,338.6 409,332.3 409.7,340.8 410.3,340.6 411,336 411.6,336.9 412.3,340.8 412.9,337.1 413.6,333.4 414.3,338.8 414.9,340.1 415.6,340.3 416.2,337.2 416.9,337.8 417.5,337.7 418.2,340.5 418.9,340.6 419.5,337.1 420.2,337.5 420.8,339.2 421.5,338.3 422.1,339.4 422.8,342.3 423.5,340.2 424.1,340.6 424.8,342.2 425.4,342.4 426.1,341.5 426.8,339.7 427.4,340.7 428.1,342.4 428.7,341.9 429.4,340.9 430,339.7 430.7,339.9 431.4,341.9 432,341 432.7,338.3 433.3,338.9 434,342.9 434.6,342.3 435.3,342.9 436,342.9 436.6,341 437.3,342.3 437.9,340.2 438.6,338.7 439.2,340 439.9,339.8 440.6,343.1 441.2,341.8 441.9,340.9 442.5,341.3 443.2,338.6 443.9,335.7 444.5,341.5 445.2,339.8 445.8,339 446.5,339.8 447.1,339.3 447.8,341.1 448.5,338.2 449.1,337.9 449.8,338.9 450.4,340.9 451.1,341.1 451.7,340.6 452.4,341.9 453.1,338.9 453.7,331.1 454.4,339.4 455,339.1 455.7,337.7 456.3,340.2 457,338.4 457.7,337.8 458.3,338.2 459,341.4 459.6,336.5 460.3,338.3 461,337.8 461.6,337.3 462.3,334.5 462.9,337.3 463.6,340.9 464.2,338.7 464.9,339.7 465.6,336.8 466.2,338.4 466.9,339 467.5,340.2 468.2,337.1 468.8,338.1 469.5,340.1 470.2,340 470.8,336.8 471.5,338.3 472.1,339.4 472.8,337.5 473.4,329.9 474.1,338.8 474.8,340.4 475.4,338.2 476.1,338.9 476.7,337.1 477.4,339.1 478.1,332 478.7,337.9 479.4,337.1 480,336.8 480.7,335.9 481.3,336.4 482,338 482.7,336.5 483.3,328.4 484,339.3 484.6,336.6 485.3,340 485.9,338.2 486.6,337.1 487.3,339.6 487.9,339.7 488.6,336.7 489.2,335.7 489.9,338.4 490.5,339.4 491.2,333.2 491.9,339.1 492.5,337.1 493.2,338.1 493.8,336.3 494.5,337 495.2,336.8 495.8,336.8 496.5,336.8 497.1,334.9 497.8,335.6 498.4,335.7 499.1,336 499.8,339.6 500.4,337.3 501.1,334.8 501.7,338.8 502.4,339 503,338.7 503.7,336.3 504.4,338.2 505,328.9 505.7,335 506.3,338.8 507,338.6 507.6,335.3 508.3,338.7 509,334.3 509.6,335.7 510.3,330.1 510.9,334.9 511.6,334.8 512.3,337.7 512.9,335.4 513.6,334.8 514.2,334.8 514.9,335.4 515.5,338.2 516.2,336.8 516.9,334.1 517.5,337.1 518.2,333.3 518.8,335.8 519.5,336.2 520.1,336.8 520.8,337.5 521.5,335.9 522.1,336.6 522.8,335.6 523.4,336.5 524.1,335.1 524.7,335.3 525.4,335.8 526.1,330.9 526.7,334.7 527.4,338.1 528,335.9 528.7,332.8 529.4,337" fill="none" stroke="#2690C8" stroke-width="1.3" stroke-linejoin="round" stroke-linecap="round"/><polyline points="332.5,342.4 333.5,333 334.7,327.5 336.2,323.1 336.6,321.4 337.3,320.8 338,319.4 338.6,318.7 339.3,315.9 339.9,314.9 340.6,313.9 341.3,313.3 341.9,313.8 342.6,311.6 343.2,311.8 343.9,310.3 344.5,309.9 345.2,309.8 345.9,310.3 346.5,309.3 347.2,307.4 347.8,307.6 348.5,306.9 349.1,308.2 349.8,307.7 350.5,307.4 351.1,307.1 351.8,306.5 352.4,306.6 353.1,305.8 353.7,304.2 354.4,305.3 355.1,304.2 355.7,304.5 356.4,303.7 357,303 357.7,302.5 358.4,302.3 359,301.8 359.7,301 360.3,302.5 361,302.2 361.6,302.5 362.3,301.6 363,301.1 363.6,301.3 364.3,299.7 364.9,300.8 365.6,300 366.2,299.1 366.9,299 367.6,299.5 368.2,298.6 368.9,298.9 369.5,299.1 370.2,298.4 370.8,300.6 371.5,298.3 372.2,297.5 372.8,297.3 373.5,297 374.1,297.3 374.8,296.4 375.5,297.6 376.1,298.1 376.8,296.6 377.4,297.2 378.1,297.6 378.7,295.3 379.4,295.4 380.1,296.9 380.7,296.8 381.4,296.2 382,294.9 382.7,295.4 383.3,296.5 384,296.4 384.7,296.1 385.3,294.6 386,296.1 386.6,294.9 387.3,295.6 387.9,294.1 388.6,296.1 389.3,295.1 389.9,295.4 390.6,294.1 391.2,295 391.9,294.8 392.6,294.8 393.2,294.2 393.9,295 394.5,294 395.2,293.9 395.8,293.5 396.5,294.7 397.2,293.3 397.8,293.5 398.5,293 399.1,294.4 399.8,294.1 400.4,294 401.1,292.8 401.8,293.7 402.4,293.4 403.1,292.7 403.7,292.4 404.4,294.8 405,292.6 405.7,293 406.4,292.9 407,293.7 407.7,292.4 408.3,293.3 409,293 409.7,294.1 410.3,292 411,292.8 411.6,293.1 412.3,294.2 412.9,293.1 413.6,293 414.3,293.4 414.9,292.4 415.6,291.7 416.2,292.8 416.9,295.2 417.5,293.2 418.2,292 418.9,293 419.5,293.3 420.2,291.9 420.8,292.6 421.5,292 422.1,291.6 422.8,291.7 423.5,291.4 424.1,291.7 424.8,290.9 425.4,291.7 426.1,290.9 426.8,292.4 427.4,292 428.1,290.5 428.7,292.3 429.4,290.8 430,291.4 430.7,291.6 431.4,291 432,290.8 432.7,291.1 433.3,290.3 434,292 434.6,290.2 435.3,291.8 436,290.3 436.6,290.5 437.3,290.7 437.9,289.8 438.6,290 439.2,290.5 439.9,290.6 440.6,291.1 441.2,291.2 441.9,290.2 442.5,290.6 443.2,290.2 443.9,290.9 444.5,290.4 445.2,290.9 445.8,290.6 446.5,290.1 447.1,290 447.8,290.2 448.5,290.8 449.1,290.1 449.8,290.4 450.4,290.3 451.1,290.2 451.7,290.7 452.4,290.1 453.1,290.6 453.7,290.5 454.4,290.8 455,290.3 455.7,290.7 456.3,290.2 457,290.4 457.7,290.4 458.3,290.6 459,290.7 459.6,289.9 460.3,289.9 461,290.3 461.6,290.6 462.3,290.3 462.9,290.1 463.6,290.7 464.2,290.1 464.9,289.8 465.6,289.8 466.2,289.8 466.9,290.5 467.5,289.9 468.2,290.5 468.8,290.6 469.5,290.7 470.2,290.5 470.8,290.2 471.5,290.4 472.1,290.6 472.8,290.4 473.4,291.8 474.1,290.5 474.8,289.8 475.4,290 476.1,290.7 476.7,290.2 477.4,290 478.1,290.5 478.7,290.2 479.4,289.7 480,289.7 480.7,290 481.3,290 482,290.6 482.7,289.9 483.3,290.5 484,290.5 484.6,290.1 485.3,290.7 485.9,290.4 486.6,290.2 487.3,289.9 487.9,290.1 488.6,290.6 489.2,290.2 489.9,289.9 490.5,290 491.2,290.1 491.9,289.8 492.5,290.2 493.2,289.7 493.8,290.5 494.5,289.8 495.2,289.7 495.8,290.2 496.5,289.9 497.1,290.5 497.8,290.1 498.4,290.1 499.1,290.5 499.8,289.8 500.4,290.4 501.1,290.3 501.7,290 502.4,290.6 503,289.6 503.7,290.5 504.4,289.7 505,290.4 505.7,289.7 506.3,289.6 507,290.1 507.6,290.5 508.3,289.8 509,290.1 509.6,290.2 510.3,289.8 510.9,290.1 511.6,289.6 512.3,291.8 512.9,290.3 513.6,289.9 514.2,289.8 514.9,289.6 515.5,290.3 516.2,290 516.9,290.5 517.5,290.3 518.2,289.6 518.8,290.5 519.5,290.5 520.1,290.4 520.8,290.4 521.5,290.2 522.1,290.3 522.8,290.2 523.4,290.1 524.1,289.8 524.7,289.7 525.4,290.2 526.1,290.1 526.7,289.6 527.4,290.2 528,290.1 528.7,290 529.4,290.3" fill="none" stroke="#A096DC" stroke-width="1.3" stroke-linejoin="round" stroke-linecap="round"/><polyline points="332.2,343.9 333.2,335 334.7,326 336.2,321.6 336.6,318.3 337.3,320.5 338,319.1 338.6,320.1 339.3,315.4 339.9,314.6 340.6,317 341.3,316.1 341.9,313.5 342.6,315.4 343.2,313.3 343.9,315.4 344.5,311.2 345.2,311.6 345.9,315.5 346.5,312 347.2,311.3 347.8,314.4 348.5,313.2 349.1,310.1 349.8,312.4 350.5,312.8 351.1,309.7 351.8,312.4 352.4,309 353.1,310.1 353.7,308.4 354.4,308.9 355.1,313.4 355.7,309.8 356.4,313.2 357,309.7 357.7,310.6 358.4,312.1 359,310.8 359.7,307.2 360.3,310 361,310.1 361.6,307.3 362.3,306.6 363,311.2 363.6,308.9 364.3,306.8 364.9,308.2 365.6,306.8 366.2,310.2 366.9,308.3 367.6,305.9 368.2,310.1 368.9,305.6 369.5,306.7 370.2,305.1 370.8,309.3 371.5,305.4 372.2,307.7 372.8,305 373.5,307.2 374.1,308.3 374.8,307.3 375.5,306.7 376.1,306.8 376.8,306.4 377.4,307.3 378.1,304.3 378.7,306.5 379.4,305 380.1,308.7 380.7,309 381.4,303.6 382,304 382.7,307.2 383.3,306.3 384,302.9 384.7,306.9 385.3,308.2 386,304.9 386.6,304.3 387.3,305.5 387.9,307.6 388.6,303.6 389.3,303.8 389.9,303.1 390.6,305.8 391.2,304.8 391.9,303.5 392.6,304.3 393.2,302.2 393.9,303.9 394.5,307.9 395.2,305.5 395.8,303.7 396.5,307.6 397.2,304.1 397.8,303.5 398.5,302.2 399.1,302.9 399.8,303.2 400.4,303.3 401.1,307.1 401.8,303.4 402.4,303.3 403.1,305.4 403.7,307.2 404.4,303.4 405,306.2 405.7,303.8 406.4,304.9 407,305 407.7,307.1 408.3,305.9 409,304.4 409.7,306.3 410.3,303.4 411,303.5 411.6,306.9 412.3,304.4 412.9,305.7 413.6,302.9 414.3,306.5 414.9,304.6 415.6,302.4 416.2,306.5 416.9,303.7 417.5,302.9 418.2,302.4 418.9,301.4 419.5,302 420.2,304.6 420.8,302.1 421.5,302.6 422.1,303.4 422.8,303.8 423.5,303 424.1,304.8 424.8,302.3 425.4,302.8 426.1,303 426.8,301.5 427.4,301.9 428.1,301.5 428.7,304.1 429.4,301.4 430,303.7 430.7,301.6 431.4,303.4 432,303.4 432.7,302 433.3,304.6 434,303.3 434.6,302.9 435.3,300.5 436,302.2 436.6,301.5 437.3,302.5 437.9,304.6 438.6,304.3 439.2,300.6 439.9,303.4 440.6,304.6 441.2,302.8 441.9,300.7 442.5,304.3 443.2,302.3 443.9,304.8 444.5,304.3 445.2,304.1 445.8,304.6 446.5,300.6 447.1,304 447.8,301.7 448.5,301 449.1,302.1 449.8,303.1 450.4,300.4 451.1,302.5 451.7,304.1 452.4,302.8 453.1,303 453.7,301.9 454.4,305 455,301.7 455.7,303.7 456.3,303.6 457,300.6 457.7,305.2 458.3,301.7 459,305.1 459.6,304.9 460.3,304.7 461,304.5 461.6,302.4 462.3,302.6 462.9,302.2 463.6,304.9 464.2,300.7 464.9,301.2 465.6,305 466.2,304.3 466.9,303.8 467.5,305.1 468.2,303 468.8,304.4 469.5,302.6 470.2,304.7 470.8,300.9 471.5,302.6 472.1,303.3 472.8,304.3 473.4,302.5 474.1,303.7 474.8,305 475.4,302.5 476.1,301.5 476.7,300.7 477.4,304.5 478.1,302.7 478.7,302.3 479.4,302.9 480,301 480.7,301.5 481.3,301.5 482,301.6 482.7,304.3 483.3,301.5 484,300.8 484.6,304.3 485.3,302.9 485.9,300.5 486.6,303.4 487.3,303.4 487.9,303.3 488.6,303.8 489.2,302.2 489.9,301.3 490.5,303.6 491.2,303.1 491.9,303.4 492.5,301 493.2,301.9 493.8,303.3 494.5,301.9 495.2,302.9 495.8,302.3 496.5,303.6 497.1,301.7 497.8,302.4 498.4,303.9 499.1,301.5 499.8,300.9 500.4,303 501.1,300.7 501.7,304 502.4,301.3 503,304.2 503.7,302.5 504.4,300.7 505,302.4 505.7,303.1 506.3,302.2 507,302.9 507.6,301.6 508.3,304.3 509,300.7 509.6,303.6 510.3,300 510.9,302.2 511.6,300.1 512.3,300.4 512.9,302.5 513.6,303.9 514.2,301.1 514.9,301.5 515.5,301.9 516.2,302.4 516.9,301.2 517.5,301.2 518.2,303.5 518.8,302.1 519.5,301.1 520.1,303.2 520.8,304 521.5,301.4 522.1,299.5 522.8,300.8 523.4,303.5 524.1,300.1 524.7,300.1 525.4,302.7 526.1,299.5 526.7,302.7 527.4,299.7 528,300.3 528.7,301.1 529.4,298.7" fill="none" stroke="#747474" stroke-width="1.3" stroke-linejoin="round" stroke-linecap="round"/></g><rect x="324.8" y="343.7" width="51.2" height="36.5" rx="1" fill="#E5E5E5" fill-opacity="0.8" stroke="#CCC" stroke-opacity="0.8" stroke-width="0.5"/><line x1="327.7" y1="348.4" x2="340.5" y2="348.4" stroke="#EC5640" stroke-width="1.3"/><text transform="translate(344.6,350.23)" font-size="6.1" fill="#222">train_loss</text><line x1="327.7" y1="357.9" x2="340.5" y2="357.9" stroke="#2690C8" stroke-width="1.3"/><text transform="translate(344.6,359.73)" font-size="6.1" fill="#222">val_loss</text><line x1="327.7" y1="367.4" x2="340.5" y2="367.4" stroke="#A096DC" stroke-width="1.3"/><text transform="translate(344.6,369.23)" font-size="6.1" fill="#222">train_acc</text><line x1="327.7" y1="376.9" x2="340.5" y2="376.9" stroke="#747474" stroke-width="1.3"/><text transform="translate(344.6,378.73)" font-size="6.1" fill="#222">val_acc</text></g>

<text class="cap" x="100" y="207.5" font-size="9.8" textLength="68.8" lengthAdjust="spacingAndGlyphs"><tspan font-weight="bold">(a)</tspan> RGB Images</text>
<text class="cap" x="386" y="206.2" font-size="9.8" textLength="82.8" lengthAdjust="spacingAndGlyphs"><tspan font-weight="bold">(b)</tspan> HS Data Cubes</text>
<text class="cap" x="52" y="421.9" font-size="9.8" textLength="165.3" lengthAdjust="spacingAndGlyphs"><tspan font-weight="bold">(c)</tspan> RGB+HS Data Cubes (100 epochs)</text>
<text class="cap" x="344" y="426.5" font-size="9.8" textLength="166.7" lengthAdjust="spacingAndGlyphs"><tspan font-weight="bold">(d)</tspan> RGB+HS Data Cubes (300 epochs)</text>

</svg>
</body></html>
